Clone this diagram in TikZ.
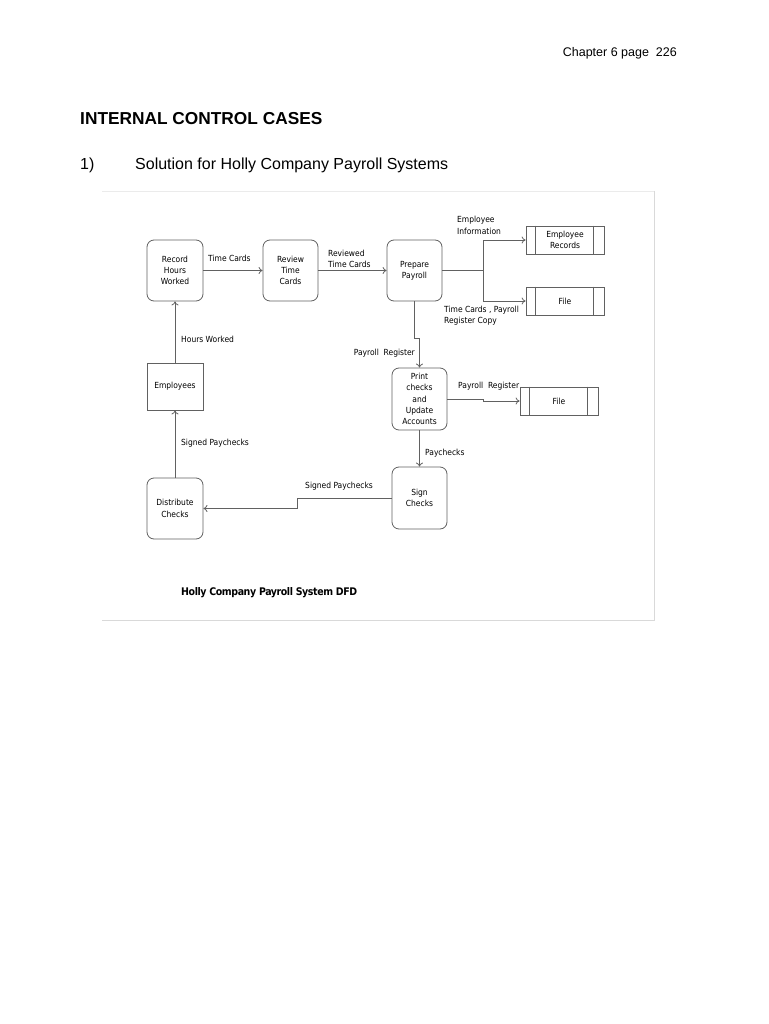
\documentclass[tikz,border=0pt]{standalone}
\usepackage{fontspec}
\setmainfont{Liberation Sans}
\newfontfamily\dfd{DejaVu Sans Condensed}
\usetikzlibrary{arrows.meta}
\tikzset{
  ln/.style={draw=black!62, line width=0.8pt},
  arr/.style={ln, -{To[length=4pt,width=7pt]}},
  dfdfont/.style={font=\dfd\fontsize{8.4}{11.3}\selectfont},
  proc/.style={ln, rounded corners=7pt, minimum width=55pt, minimum height=61pt, inner sep=0pt, align=center, dfdfont},
  ent/.style={ln, minimum width=56pt, minimum height=47pt, inner sep=0pt, align=center, dfdfont},
  store/.style={ln, minimum width=78pt, minimum height=28pt, inner sep=0pt, align=center, dfdfont},
  lbl/.style={inner sep=0pt, align=left, dfdfont}
}
\begin{document}
\begin{tikzpicture}[x=1pt,y=-1pt]
\useasboundingbox (0,0) rectangle (768,1024);
\fill[white] (0,0) rectangle (768,1024);
% frame
\draw[black!8, line width=0.6pt] (102,191) -- (654,191);
\draw[black!15, line width=1pt] (654,191) -- (654,620) -- (102,620);
% header
\node[anchor=base east, inner sep=0pt, font=\fontsize{12.5}{15}\selectfont] (hdr) at (677,57) {Chapter 6 page\ \ 226};
\node[anchor=base west, inner sep=0pt, font=\bfseries\fontsize{17.3}{20}\selectfont] (title) at (80,125) {INTERNAL CONTROL CASES};
\node[anchor=base west, inner sep=0pt, font=\fontsize{16}{19}\selectfont] (num) at (80,170) {1)};
\node[anchor=base west, inner sep=0pt, font=\fontsize{16}{19}\selectfont] (sol) at (135,170) {Solution for Holly Company Payroll Systems};
% nodes
\node[proc, minimum width=56pt] (rec) at (175,270.5) {Record\\Hours\\Worked};
\node[proc] (rev) at (290.5,270.5) {Review\\Time\\Cards};
\node[proc] (prep) at (414.5,270.5) {Prepare\\Payroll};
\node[store] (er) at (565,240) {Employee\\Records};
\node[store] (f1) at (565,301) {File};
\node[ent] (emp) at (175,386.5) {Employees};
\node[proc, minimum height=62pt] (print) at (419.5,399) {Print\\checks\\and\\Update\\Accounts};
\node[store] (f2) at (559,401) {File};
\node[proc, minimum height=62pt] (sign) at (419.5,498) {Sign\\Checks};
\node[proc, minimum width=56pt] (dist) at (175,508.5) {Distribute\\Checks};
\foreach \s in {er,f1,f2} {
  \draw[ln] ([xshift=10pt]\s.north west) -- ([xshift=10pt]\s.south west);
  \draw[ln] ([xshift=-11pt]\s.north east) -- ([xshift=-11pt]\s.south east);
}
% connectors
\coordinate (j) at (483,270.5);
\coordinate (k) at (297,498);
\draw[arr] (rec.east) -- (rev.west);
\draw[arr] (rev.east) -- (prep.west);
\draw[ln] (prep.east) -- (j);
\draw[arr] (j) |- (er.west);
\draw[arr] (j) |- (f1.west);
\draw[arr] (prep.south) -- ++(0,37) -| (print.north);
\draw[arr] (print.east) -- ++(36,0) |- (f2.west);
\draw[arr] (print.south) -- (sign.north);
\draw[ln] (sign.west) -- (k);
\draw[arr] (k) |- (dist.east);
\draw[arr] (dist.north) -- (emp.south);
\draw[arr] (emp.north) -- (rec.south);
% labels
\node[lbl, anchor=west] (l1) at (208,258) {Time Cards};
\node[lbl, anchor=west] (l2) at (328,259) {Reviewed\\Time Cards};
\node[lbl, anchor=west] (l3) at (457,225.5) {Employee\\Information};
\node[lbl, anchor=west] (l4) at (444,316) {Time Cards , Payroll\\Register Copy};
\node[lbl, anchor=west] (l5) at (181,339) {Hours Worked};
\node[lbl, anchor=east] (l6) at (415,353) {Payroll\ \ Register};
\node[lbl, anchor=west] (l7) at (458,386) {Payroll\ \ Register};
\node[lbl, anchor=west] (l8) at (425,453) {Paychecks};
\node[lbl, anchor=west] (l9) at (305,486) {Signed Paychecks};
\node[lbl, anchor=west] (l10) at (181,443) {Signed Paychecks};
\node[anchor=west, inner sep=0pt, font=\dfd\bfseries\fontsize{10.5}{12}\selectfont] (cap) at (181,593) {\addfontfeature{LetterSpace=-4}Holly Company Payroll System DFD};
\end{tikzpicture}
\end{document}
